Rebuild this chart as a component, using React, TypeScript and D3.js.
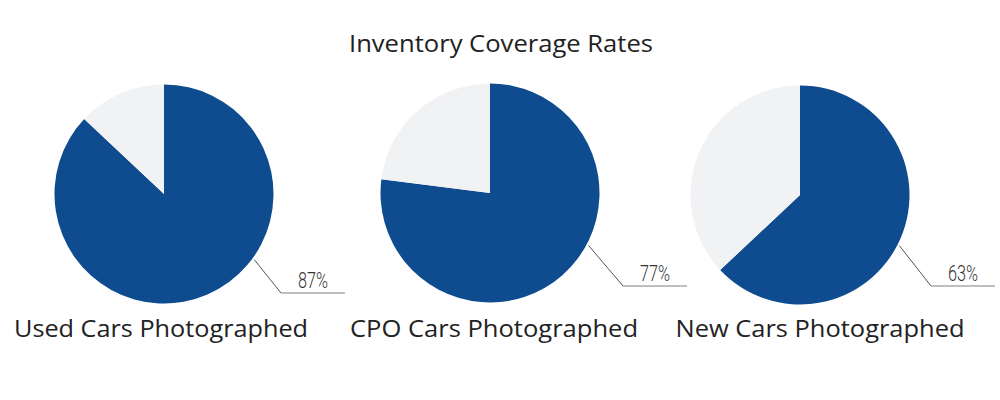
import React from "react";
import * as d3 from "d3";

const title = "Inventory Coverage Rates";
const categories = ["Used Cars Photographed", "CPO Cars Photographed", "New Cars Photographed"];
const coverage = [87, 77, 63];
const percentLabels = ["87%", "77%", "63%"];

// layout (positions only)
const centers: [number, number][] = [[164, 194], [490, 193], [800, 195]];
const radius = 109.5;
const leaderAngleDeg = [126, 118, 117];
const leaderElbow: [number, number][] = [[117, 99], [133, 93], [131, 91]];
const leaderLen = 64;
const labelCenters = [161, 494, 820];

const BLUE = "#0e4c8f";
const GREY = "#f1f2f4";

export default function App() {
  const pie = d3.pie<number>().sort(null).value((d) => d);
  const arc = d3.arc<d3.PieArcDatum<number>>().innerRadius(0).outerRadius(radius);

  return (
    <svg width={1000} height={400} style={{ position: "absolute", left: 0, top: 0, background: "#fff" }}>
      <text
        x={501}
        y={52}
        textAnchor="middle"
        fontFamily="Open Sans"
        fontSize={24}
        textLength={304}
        lengthAdjust="spacingAndGlyphs"
        fill="#222"
      >
        {title}
      </text>
      {categories.map((cat, i) => {
        const [cx, cy] = centers[i];
        const arcs = pie([coverage[i], 100 - coverage[i]]);
        const a = (leaderAngleDeg[i] * Math.PI) / 180;
        const r0 = radius + 2;
        const sx = cx + Math.sin(a) * r0;
        const sy = cy - Math.cos(a) * r0;
        const ex = cx + leaderElbow[i][0];
        const ey = cy + leaderElbow[i][1];
        return (
          <g key={cat}>
            <g transform={`translate(${cx},${cy})`}>
              {arcs.map((d, j) => (
                <path key={j} d={arc(d) || ""} fill={j === 0 ? BLUE : GREY} />
              ))}
            </g>
            <line x1={sx} y1={sy} x2={ex} y2={ey} stroke="#555" strokeWidth={1} />
            <line x1={ex} y1={ey} x2={ex + leaderLen} y2={ey} stroke="#aaa" strokeWidth={1.5} />
            <text
              x={ex + leaderLen / 2}
              y={ey - 5}
              textAnchor="middle"
              fontFamily="Roboto"
              fontWeight={300}
              fontSize={22}
              textLength={30}
              lengthAdjust="spacingAndGlyphs"
              fill="#333"
            >
              {percentLabels[i]}
            </text>
            <text
              x={labelCenters[i]}
              y={337}
              textAnchor="middle"
              fontFamily="Open Sans"
              fontSize={23}
              textLength={[294, 288, 289][i]}
              lengthAdjust="spacingAndGlyphs"
              fill="#222"
            >
              {cat}
            </text>
          </g>
        );
      })}
    </svg>
  );
}
